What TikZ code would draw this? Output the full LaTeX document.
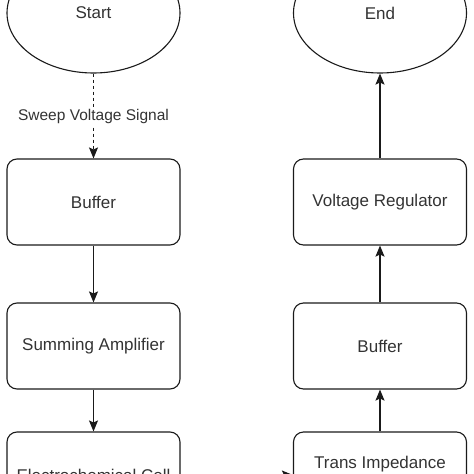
\documentclass[tikz,border=0pt]{standalone}
\usepackage{fontspec}
\setmainfont{Liberation Sans}
\usetikzlibrary{arrows.meta,shapes.geometric}
\definecolor{txt}{HTML}{333333}
\definecolor{ln}{HTML}{1A1A1A}
\tikzset{
  flowbox/.style={draw=ln, line width=1.1pt, rounded corners=10pt, minimum width=173pt, minimum height=86pt, inner sep=0pt, align=center, text=txt, font=\fontsize{17}{21}\selectfont},
  term/.style={draw=ln, line width=1.1pt, ellipse, minimum width=173pt, minimum height=120pt, inner sep=0pt, text=txt, font=\fontsize{17}{21}\selectfont},
  conn/.style={draw=ln, line width=1.2pt, -{Stealth[length=11pt,width=9pt,inset=2pt]}},
  lbl/.style={fill=white, text=txt, inner sep=2pt, font=\fontsize{15.5}{18}\selectfont}
}
\begin{document}
\begin{tikzpicture}[x=1pt,y=-1pt]
\useasboundingbox (0,0) rectangle (474,474);
\clip (0,0) rectangle (474,474);
\node[term] (start) at (93.5,13) {\raisebox{-3pt}{Start}};
\node[term] (end) at (380,13) {\raisebox{-3pt}{End}};
\node[flowbox] (buf1) at (93.5,202) {Buffer};
\node[flowbox] (sum) at (93.5,346) {Summing Amplifier};
\node[flowbox] (cell) at (93.5,475) {Electrochemical Cell};
\node[flowbox] (vreg) at (380,202) {Voltage Regulator};
\node[flowbox] (buf2) at (380,346) {Buffer};
\node[flowbox] (tia) at (380,475) {Trans Impedance\\\vphantom{Ag}};
\draw[conn, dash pattern=on 3pt off 3pt] (start) -- node[lbl] {Sweep Voltage Signal} (buf1);
\draw[conn] (buf1) -- (sum);
\draw[conn] (sum) -- (cell);
\draw[conn] (cell) -- (tia);
\draw[conn] (tia) -- (buf2);
\draw[conn] (buf2) -- (vreg);
\draw[conn] (vreg) -- (end);
\end{tikzpicture}
\end{document}
